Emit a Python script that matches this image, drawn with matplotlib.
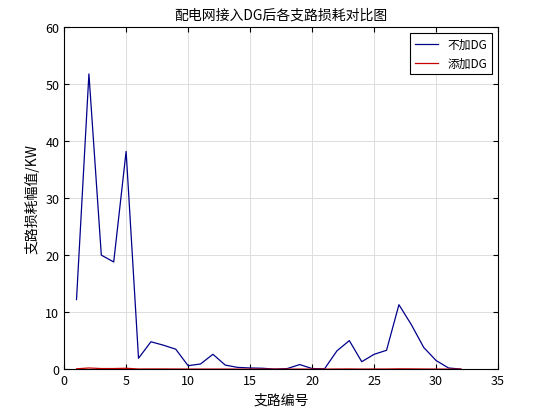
import matplotlib
matplotlib.use('Agg')
import matplotlib.pyplot as plt
plt.rcParams['font.family'] = ['Noto Sans CJK SC', 'DejaVu Sans']

branches = list(range(1, 33))
loss_no_dg = [12.2, 51.8, 20.0, 18.8, 38.2, 1.9, 4.8, 4.2, 3.5, 0.6, 0.9, 2.6, 0.7, 0.3, 0.2, 0.15,
              0.0, 0.1, 0.8, 0.1, 0.05, 3.2, 5.0, 1.3, 2.6, 3.3, 11.3, 7.8, 3.8, 1.5, 0.2, 0.0]
loss_dg = [0.05, 0.2, 0.1, 0.1, 0.15, 0.02, 0.03, 0.03, 0.02, 0.01, 0.01, 0.01, 0.01, 0.0, 0.0, 0.0,
           0.0, 0.0, 0.01, 0.0, 0.0, 0.02, 0.03, 0.01, 0.02, 0.02, 0.05, 0.04, 0.02, 0.01, 0.0, 0.0]

fig = plt.figure(figsize=(5.48, 4.14), dpi=100)
ax = fig.add_axes([0.117, 0.106, 0.792, 0.826])
ax.plot(branches, loss_no_dg, color='#00008B', lw=0.9, label='不加DG')
ax.plot(branches, loss_dg, color='#CC0000', lw=0.9, label='添加DG')
ax.set_xlim(0, 35)
ax.set_ylim(0, 60)
ax.set_xticks(range(0, 36, 5))
ax.set_yticks(range(0, 61, 10))
ax.grid(True, color='#DDDDDD', lw=0.7)
ax.tick_params(direction='in', labelsize=9, top=True, right=True)
ax.set_title('配电网接入DG后各支路损耗对比图', fontsize=10)
ax.set_xlabel('支路编号', fontsize=10)
ax.set_ylabel('支路损耗幅值/KW', fontsize=10)
leg = ax.legend(loc='upper right', fontsize=8.5, fancybox=False, edgecolor='black', framealpha=1)
leg.get_frame().set_linewidth(0.8)
fig.savefig('out.png')
